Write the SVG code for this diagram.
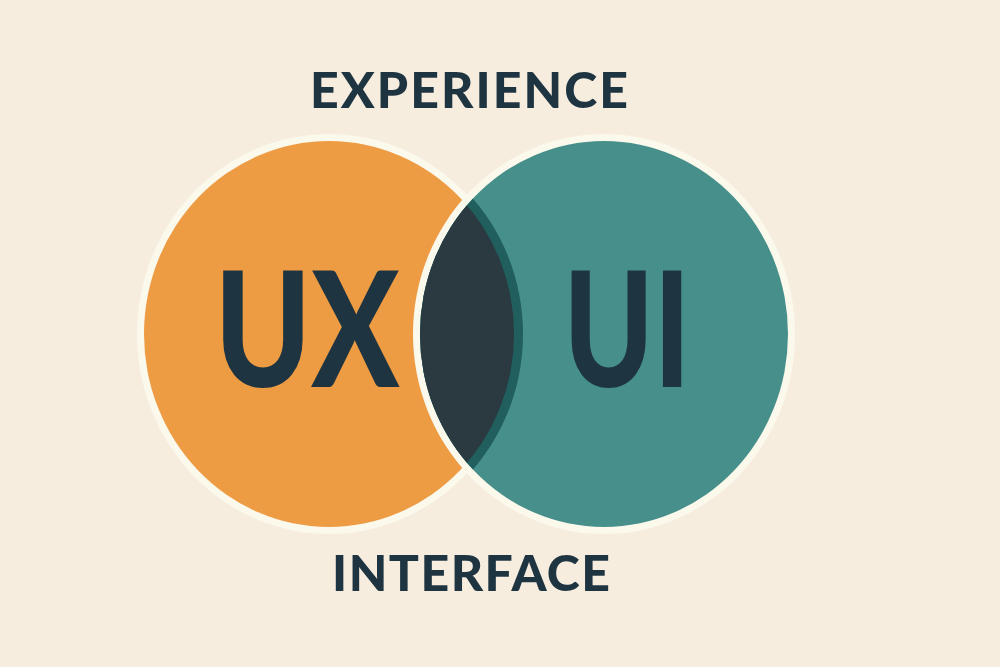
<svg xmlns="http://www.w3.org/2000/svg" width="1000" height="667" viewBox="0 0 1000 667">
  <style>
    .lbl { font-family: Lato, "Liberation Sans", sans-serif; font-weight: 900; fill: #1E3441; text-anchor: middle; }
    .big { font-size: 160px; }
    .small { font-size: 50px; }
    .ring { fill: #FBF8EC; }
  </style>
  <defs>
    <clipPath id="rightClip">
      <ellipse cx="604" cy="334" rx="184" ry="193"/>
    </clipPath>
  </defs>
  <rect width="1000" height="667" fill="#F7EDDF"/>

  <g id="node-ux">
    <ellipse class="ring" cx="329" cy="334" rx="192" ry="200"/>
    <ellipse cx="329" cy="334" rx="185" ry="193" fill="#EE9C44"/>
  </g>

  <g id="node-ui">
    <ellipse class="ring" cx="604" cy="334" rx="191" ry="200"/>
    <ellipse cx="604" cy="334" rx="184" ry="193" fill="#468F8A"/>
  </g>

  <g id="node-overlap" clip-path="url(#rightClip)">
    <ellipse cx="329" cy="334" rx="194" ry="202" fill="#215E5E"/>
    <ellipse cx="329" cy="334" rx="185" ry="193" fill="#2A3A40"/>
  </g>

  <g id="labels">
    <text class="lbl big" x="307" y="387" textLength="185" lengthAdjust="spacingAndGlyphs">UX</text>
    <text class="lbl big" x="627" y="387" textLength="127" lengthAdjust="spacingAndGlyphs">UI</text>
    <text class="lbl small" x="469" y="108" textLength="318" lengthAdjust="spacing">EXPERIENCE</text>
    <text class="lbl small" x="471" y="591" textLength="278" lengthAdjust="spacing">INTERFACE</text>
  </g>
  <g id="connectors"/>
</svg>
